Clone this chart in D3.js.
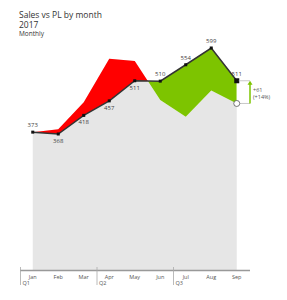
<!DOCTYPE html>
<html>
<head>
<meta charset="utf-8">
<script src="https://cdn.jsdelivr.net/npm/d3@7"></script>
<style>
  body { margin: 0; background: #fff; }
  text { font-family: "Open Sans", "DejaVu Sans", sans-serif; }
</style>
</head>
<body>
<div id="chart"></div>
<script>
// data
var months = ["Jan", "Feb", "Mar", "Apr", "May", "Jun", "Jul", "Aug", "Sep"];
var quarters = ["Q1", "Q2", "Q3"];
var actual = [373, 368, 418, 457, 511, 510, 554, 599, 511];
var plan = [373, 381, 453, 570, 564, 459, 414, 485, 450];

var w = 287, h = 300;

var svg = d3.select("#chart").append("svg")
    .attr("width", w).attr("height", h);

// titles
svg.append("text").attr("x", 19).attr("y", 18)
    .attr("font-size", 8.5).attr("fill", "#333").text("Sales vs PL by month");
svg.append("text").attr("x", 19).attr("y", 28)
    .attr("font-size", 8.5).attr("fill", "#333").text("2017");
svg.append("text").attr("x", 19).attr("y", 36)
    .attr("font-size", 6.5).attr("fill", "#333").text("Monthly");

var x = d3.scaleBand().domain(months).range([20, 249.5]).padding(0);
var y = d3.scaleLinear().domain([0, 599]).range([271, 48]);

var rows = months.map(function(m, i) {
    return { m: m, a: actual[i], p: plan[i] };
});
function cx(d) { return x(d.m) + x.bandwidth() / 2; }

// grey area under plan
svg.append("path")
    .datum(rows)
    .attr("fill", "#e6e6e6")
    .attr("d", d3.area().x(cx).y0(y(0)).y1(function(d) { return y(d.p); }));

// clip regions above / below the actual line
var defs = svg.append("defs");
defs.append("clipPath").attr("id", "above")
    .append("path").datum(rows)
    .attr("d", d3.area().x(cx).y0(0).y1(function(d) { return y(d.a); }));
defs.append("clipPath").attr("id", "below")
    .append("path").datum(rows)
    .attr("d", d3.area().x(cx).y0(h).y1(function(d) { return y(d.a); }));

var between = d3.area().x(cx)
    .y0(function(d) { return y(d.p); })
    .y1(function(d) { return y(d.a); });

svg.append("path").datum(rows)
    .attr("clip-path", "url(#above)")
    .attr("fill", "#ff0000")
    .attr("d", between);
svg.append("path").datum(rows)
    .attr("clip-path", "url(#below)")
    .attr("fill", "#7dc400")
    .attr("d", between);

// actual line
svg.append("path").datum(rows)
    .attr("fill", "none")
    .attr("stroke", "#333")
    .attr("stroke-width", 1.5)
    .attr("d", d3.line().x(cx).y(function(d) { return y(d.a); }));

// markers
svg.selectAll(".pt").data(rows).enter().append("rect")
    .attr("class", "pt")
    .attr("x", function(d, i) { return cx(d) - (i == rows.length - 1 ? 2.5 : 1.5); })
    .attr("y", function(d, i) { return y(d.a) - (i == rows.length - 1 ? 2.5 : 1.5); })
    .attr("width", function(d, i) { return i == rows.length - 1 ? 5 : 3; })
    .attr("height", function(d, i) { return i == rows.length - 1 ? 5 : 3; })
    .attr("fill", "#111");

// value labels
svg.selectAll(".lbl").data(rows).enter().append("text")
    .attr("class", "lbl")
    .attr("x", cx)
    .attr("y", function(d) { return d.a >= d.p ? y(d.a) - 5 : y(d.a) + 9; })
    .attr("text-anchor", "middle")
    .attr("font-size", 6)
    .attr("fill", "#444")
    .text(function(d) { return d.a; });

// variance on last month
var last = rows[rows.length - 1];
var vx = 250;
svg.append("line").attr("x1", cx(last) + 2).attr("x2", vx)
    .attr("y1", y(last.a)).attr("y2", y(last.a))
    .attr("stroke", "#bbb").attr("stroke-width", 0.8);
svg.append("line").attr("x1", cx(last) + 3).attr("x2", vx)
    .attr("y1", y(last.p)).attr("y2", y(last.p))
    .attr("stroke", "#bbb").attr("stroke-width", 0.8);
svg.append("line").attr("x1", vx).attr("x2", vx)
    .attr("y1", y(last.a) + 3).attr("y2", y(last.p))
    .attr("stroke", "#7dc400").attr("stroke-width", 1.5);
svg.append("path")
    .attr("d", "M" + (vx - 2.5) + "," + (y(last.a) + 4) + "L" + vx + "," + y(last.a) + "L" + (vx + 2.5) + "," + (y(last.a) + 4) + "Z")
    .attr("fill", "#7dc400");
var diff = last.a - last.p;
svg.append("text").attr("x", vx + 3).attr("y", (y(last.a) + y(last.p)) / 2)
    .attr("font-size", 5.5).attr("fill", "#555")
    .text("+" + diff);
svg.append("text").attr("x", vx + 3).attr("y", (y(last.a) + y(last.p)) / 2 + 6.5)
    .attr("font-size", 5.5).attr("fill", "#555")
    .text("(+" + Math.round(diff / last.p * 100) + "%)");

// plan marker for last month
svg.append("circle").attr("cx", cx(last)).attr("cy", y(last.p)).attr("r", 3)
    .attr("fill", "#fff").attr("stroke", "#555").attr("stroke-width", 0.8);

// x axis
svg.append("line").attr("x1", 20).attr("x2", 250)
    .attr("y1", 270.5).attr("y2", 270.5)
    .attr("stroke", "#999").attr("stroke-width", 1.5);

svg.selectAll(".mon").data(months).enter().append("text")
    .attr("class", "mon")
    .attr("x", function(d) { return x(d) + x.bandwidth() / 2; })
    .attr("y", 279)
    .attr("text-anchor", "middle")
    .attr("font-size", 5.5)
    .attr("fill", "#555")
    .text(function(d) { return d; });

svg.selectAll(".qsep").data(quarters).enter().append("line")
    .attr("class", "qsep")
    .attr("x1", function(d, i) { return x(months[i * 3]) + 0.5; })
    .attr("x2", function(d, i) { return x(months[i * 3]) + 0.5; })
    .attr("y1", 267).attr("y2", 285)
    .attr("stroke", "#aaa").attr("stroke-width", 0.8);

svg.selectAll(".q").data(quarters).enter().append("text")
    .attr("class", "q")
    .attr("x", function(d, i) { return x(months[i * 3]) + 2.5; })
    .attr("y", 285)
    .attr("font-size", 5.5)
    .attr("fill", "#555")
    .text(function(d) { return d; });
</script>
</body>
</html>
